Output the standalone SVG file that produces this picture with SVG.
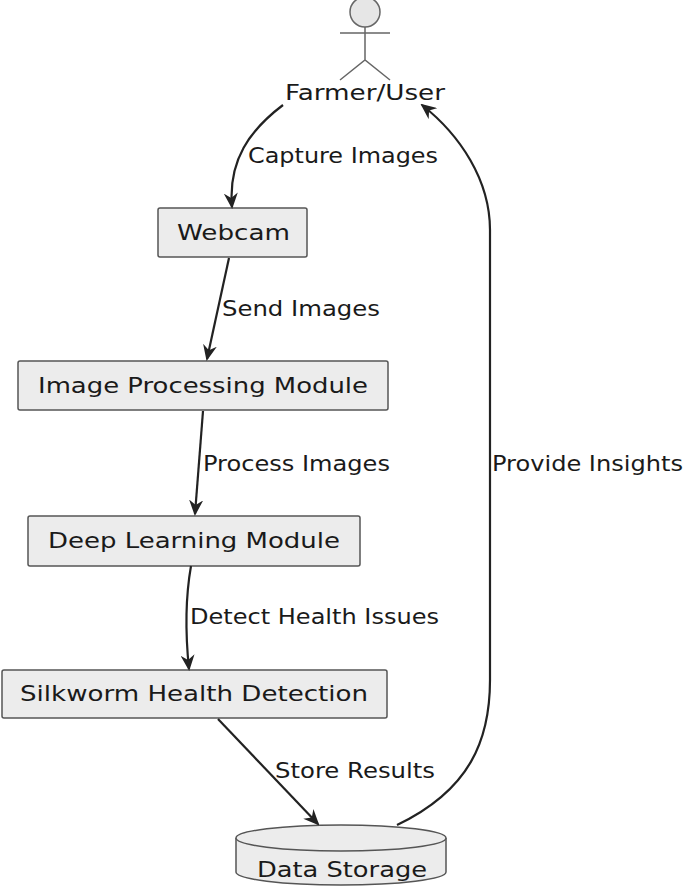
<svg xmlns="http://www.w3.org/2000/svg" width="685" height="886" viewBox="0 0 685 886">
<style>
text{font-family:"DejaVu Sans",sans-serif;font-size:21px;fill:#1a1a1a}
.n{fill:#ececec;stroke:#555;stroke-width:1.5}
.c{fill:none;stroke:#222;stroke-width:2.2}
.a{fill:none;stroke:#666;stroke-width:1.5}
</style>
<defs><marker id="m" viewBox="0 0 16 14" refX="14" refY="7" markerWidth="16" markerHeight="14" markerUnits="userSpaceOnUse" orient="auto"><path d="M0,0L16,7L0,14L5,7Z" fill="#222"/></marker></defs>
<rect width="685" height="886" fill="#fff"/>
<g id="farmer">
<circle cx="365" cy="12" r="15" fill="#e6e6e6" stroke="#666" stroke-width="1.5"/>
<path class="a" d="M365,27V60M340,33H390M340,80L365,60L390,80"/>
<text x="285" y="100" textLength="160" lengthAdjust="spacingAndGlyphs">Farmer/User</text>
</g>
<g id="webcam"><rect class="n" x="158" y="208" width="149" height="49" rx="2"/><text x="177" y="240" textLength="113" lengthAdjust="spacingAndGlyphs">Webcam</text></g>
<g id="imgproc"><rect class="n" x="18" y="361" width="370" height="49" rx="2"/><text x="38" y="393" textLength="330" lengthAdjust="spacingAndGlyphs">Image Processing Module</text></g>
<g id="deeplearn"><rect class="n" x="28" y="516" width="332" height="50" rx="2"/><text x="48" y="548" textLength="292" lengthAdjust="spacingAndGlyphs">Deep Learning Module</text></g>
<g id="health"><rect class="n" x="2" y="670" width="385" height="48" rx="2"/><text x="20" y="701" textLength="348" lengthAdjust="spacingAndGlyphs">Silkworm Health Detection</text></g>
<g id="storage">
<path class="n" d="M236,838V872A105,13 0 0 0 446,872V838"/>
<ellipse class="n" cx="341" cy="838" rx="105" ry="13"/>
<text x="257" y="877" textLength="170" lengthAdjust="spacingAndGlyphs">Data Storage</text>
</g>
<g id="connectors">
<path class="c" marker-end="url(#m)" d="M283,105C250,130 228,160 232,207"/>
<text x="248" y="163" textLength="190" lengthAdjust="spacingAndGlyphs">Capture Images</text>
<path class="c" marker-end="url(#m)" d="M229,258L207,359"/>
<text x="222" y="316" textLength="158" lengthAdjust="spacingAndGlyphs">Send Images</text>
<path class="c" marker-end="url(#m)" d="M203,411L195,514"/>
<text x="203" y="471" textLength="187" lengthAdjust="spacingAndGlyphs">Process Images</text>
<path class="c" marker-end="url(#m)" d="M191,566C185,600 186,640 189,669"/>
<text x="190" y="624" textLength="249" lengthAdjust="spacingAndGlyphs">Detect Health Issues</text>
<path class="c" marker-end="url(#m)" d="M218,719L318,824"/>
<text x="275" y="778" textLength="160" lengthAdjust="spacingAndGlyphs">Store Results</text>
<path class="c" marker-end="url(#m)" d="M397,825C470,790 490,740 490,680V230C490,180 460,135 422,105"/>
<text x="492" y="471" textLength="191" lengthAdjust="spacingAndGlyphs">Provide Insights</text>
</g>
</svg>
